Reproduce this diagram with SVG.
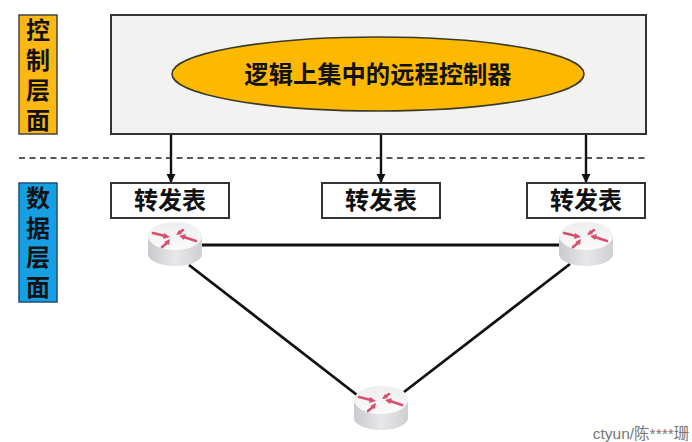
<svg xmlns="http://www.w3.org/2000/svg" width="692" height="442" viewBox="0 0 692 442">
<defs>
<style>
text{font-family:"Noto Sans CJK SC","Liberation Sans",sans-serif;fill:#111;text-anchor:middle}
.side{font-size:24px;font-weight:700}
.tbl{font-size:24px;font-weight:700}
.box{fill:#fff;stroke:#333;stroke-width:2}
.ln{stroke:#111;stroke-width:2.8;fill:none}
.arr{stroke:#111;stroke-width:2.4;fill:none;marker-end:url(#ah)}
.rb{fill:url(#side)}
.rt{fill:url(#top)}
.ra{stroke:#d9506e;stroke-width:2.6;fill:none;stroke-linecap:round}
.rh{fill:#d9506e}
</style>
<marker id="ah" markerWidth="10" markerHeight="10" refX="8" refY="5" orient="auto" markerUnits="userSpaceOnUse"><path d="M0,0.5L9,5L0,9.500z" fill="#111"/></marker>
<linearGradient id="side" x1="0" x2="1" y1="0" y2="0"><stop offset="0" stop-color="#c9c9ce"/><stop offset=".5" stop-color="#e8e8ea"/><stop offset="1" stop-color="#d0d0d4"/></linearGradient>
<linearGradient id="top" x1="0" x2="0" y1="0" y2="1"><stop offset="0" stop-color="#eeeef0"/><stop offset="1" stop-color="#fbfbfb"/></linearGradient>
<g id="r">
<path class="rb" d="M-27,-8V10C-27,17 -14,22 0,22C14,22 27,17 27,10V-8z"/>
<ellipse class="rt" cx="0" cy="-8" rx="27" ry="14"/>
<path class="ra" d="M-22,-11L-10,-8M-8,-1L-13,3M4,-11L8,-14M9,-7L21,-3"/>
<path class="rh" d="M-11,-11L-5,-7L-12,-5zM-5,-5L-6,1L-11,-2zM1,-9L7,-10L4,-14zM4,-8L11,-10L9,-4z"/>
</g>
</defs>
<g id="connectors">
<path class="ln" d="M175,245H585"/>
<path class="ln" d="M189,265L357,395"/>
<path class="ln" d="M570,264L404,392"/>
<path class="arr" d="M171,134V182"/>
<path class="arr" d="M381,134V182"/>
<path class="arr" d="M586,134V182"/>
<path d="M19,158H646" stroke="#222" stroke-width="1.4" stroke-dasharray="6 4.5" fill="none"/>
</g>
<g id="control-label"><rect x="19" y="15" width="38" height="119" fill="#fdb813" stroke="#444" stroke-width="1.5"/>
<text class="side" x="38" y="39">控</text><text class="side" x="38" y="69">制</text><text class="side" x="38" y="99">层</text><text class="side" x="38" y="129">面</text></g>
<g id="data-label"><rect x="19" y="183" width="38" height="119" fill="#14a0e3" stroke="#1f4e79" stroke-width="1.5"/>
<text class="side" x="38" y="207">数</text><text class="side" x="38" y="237">据</text><text class="side" x="38" y="266">层</text><text class="side" x="38" y="296">面</text></g>
<g id="control-plane"><rect x="111" y="15" width="535" height="119" fill="#f2f2f2" stroke="#333" stroke-width="2"/></g>
<g id="controller"><ellipse cx="378" cy="74" rx="206" ry="37" fill="#fdb900" stroke="#3a3a2a" stroke-width="1.6"/>
<text x="378" y="83" style="font-size:24.300px;font-weight:700">逻辑上集中的远程控制器</text></g>
<g id="table-1"><rect class="box" x="111" y="183" width="118" height="35"/><text class="tbl" x="170" y="209">转发表</text></g>
<g id="table-2"><rect class="box" x="322" y="183" width="118" height="35"/><text class="tbl" x="381" y="209">转发表</text></g>
<g id="table-3"><rect class="box" x="527" y="183" width="118" height="35"/><text class="tbl" x="586" y="209">转发表</text></g>
<g id="router-1"><use href="#r" x="175" y="244"/></g>
<g id="router-2"><use href="#r" x="586" y="244"/></g>
<g id="router-3"><use href="#r" x="381" y="408"/></g>
<text x="641" y="439" style="font-size:15.500px;fill:#777;font-family:'Liberation Sans','Noto Sans CJK SC',sans-serif">ctyun/陈****珊</text>
</svg>
